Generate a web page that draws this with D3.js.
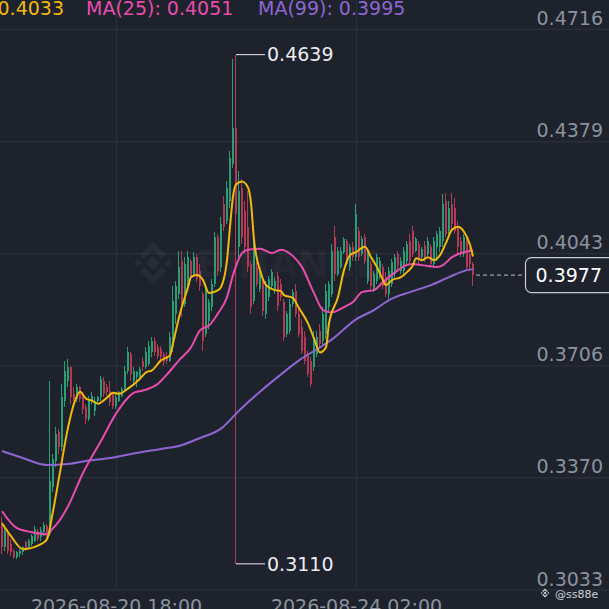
<!DOCTYPE html>
<html>
<head>
<meta charset="utf-8">
<script src="https://cdn.jsdelivr.net/npm/d3@7"></script>
<style>
  html, body { margin: 0; padding: 0; background: #1e222d; overflow: hidden; }
</style>
</head>
<body>
<div id="chart"></div>
<script>
const WIDTH = 609
const HEIGHT = 609
const PLOT_BOTTOM = 589.5
const FONT = '"DejaVu Sans", sans-serif'

const BG = '#1e222d'
const GRID = '#2a2e39'
const AXIS_TEXT = '#8c929c'
const UP = '#2a9d74'
const DOWN = '#b23a52'
const MA_COLORS = ['#f0b90b', '#e84dad', '#8c67cf']

// bougies 1h, premiere bougie a 2026-08-19 04:00 : [open, high, low, close]
const FIRST_CANDLE = new Date(2026, 7, 19, 4, 0)
const CANDLES = [
  [.3236, .3250, .3140, .3160], [.3160, .3225, .3150, .3210], [.3210, .3215, .3140, .3150], [.3170, .3185, .3135, .3145],
  [.3150, .3155, .3125, .3130], [.3130, .3150, .3125, .3145], [.3140, .3155, .3130, .3150], [.3145, .3165, .3138, .3160],
  [.3175, .3180, .3150, .3155], [.3160, .3185, .3155, .3180], [.3170, .3200, .3165, .3195], [.3180, .3225, .3175, .3215],
  [.3210, .3215, .3180, .3185], [.3190, .3220, .3178, .3212], [.3205, .3235, .3195, .3228], [.3225, .3230, .3175, .3190],
  [.3200, .3660, .3195, .3360], [.3340, .3440, .3325, .3425], [.3420, .3520, .3400, .3500], [.3505, .3515, .3440, .3460],
  [.3460, .3650, .3450, .3610], [.3600, .3720, .3580, .3690], [.3660, .3725, .3640, .3700], [.3700, .3705, .3590, .3610],
  [.3620, .3640, .3600, .3605], [.3605, .3650, .3595, .3640], [.3640, .3645, .3595, .3605], [.3610, .3625, .3560, .3575],
  [.3580, .3590, .3530, .3545], [.3545, .3615, .3540, .3600], [.3595, .3625, .3590, .3615], [.3570, .3610, .3555, .3600],
  [.3600, .3615, .3595, .3610], [.3610, .3675, .3600, .3665], [.3660, .3670, .3610, .3620], [.3640, .3650, .3615, .3625],
  [.3630, .3660, .3585, .3595], [.3620, .3625, .3575, .3585], [.3585, .3620, .3575, .3610], [.3600, .3630, .3595, .3625],
  [.3615, .3640, .3610, .3635], [.3630, .3705, .3625, .3690], [.3690, .3760, .3680, .3745], [.3740, .3745, .3660, .3680],
  [.3660, .3700, .3650, .3690], [.3670, .3690, .3640, .3685], [.3670, .3700, .3665, .3695], [.3720, .3730, .3690, .3700],
  [.3700, .3760, .3695, .3745], [.3710, .3780, .3705, .3765], [.3745, .3790, .3730, .3780], [.3780, .3790, .3735, .3745],
  [.3760, .3770, .3725, .3735], [.3755, .3765, .3720, .3730], [.3740, .3745, .3705, .3715], [.3735, .3745, .3710, .3720],
  [.3720, .3805, .3715, .3790], [.3760, .3945, .3745, .3900], [.3860, .3960, .3830, .3945], [.3920, .4050, .3905, .4000],
  [.4020, .4050, .3850, .3890], [.3890, .4030, .3880, .4010], [.3960, .4050, .3930, .4030], [.4020, .4025, .3960, .3975],
  [.3975, .4045, .3970, .4030], [.4030, .4040, .3955, .3965], [.3990, .4010, .3930, .3945], [.3920, .3925, .3750, .3780],
  [.3800, .3945, .3790, .3930], [.3840, .3905, .3815, .3895], [.3880, .3965, .3870, .3950], [.3950, .4105, .3940, .4090],
  [.4090, .4100, .3975, .3990], [.4000, .4150, .3985, .4130], [.4190, .4215, .4110, .4120], [.4140, .4260, .4130, .4240],
  [.4200, .4350, .4180, .4330], [.4310, .4625, .4300, .4420], [.4420, .4639, .3110, .4160], [.4060, .4290, .4030, .4230],
  [.4240, .4265, .4070, .4090], [.4170, .4200, .4040, .4060], [.4120, .4230, .3985, .4000], [.4010, .4020, .3860, .3880],
  [.3900, .4080, .3890, .4060], [.4000, .4020, .3940, .3950], [.3935, .3995, .3925, .3985], [.3960, .3970, .3855, .3870],
  [.3860, .3960, .3845, .3950], [.3910, .3975, .3900, .3965], [.3945, .3995, .3935, .3985], [.3930, .3970, .3920, .3960],
  [.3975, .3985, .3870, .3885], [.3950, .3965, .3900, .3910], [.3895, .3905, .3780, .3790], [.3800, .3870, .3790, .3860],
  [.3810, .3905, .3800, .3890], [.3890, .3935, .3880, .3925], [.3930, .3950, .3850, .3860], [.3860, .3875, .3790, .3800],
  [.3820, .3845, .3740, .3750], [.3790, .3810, .3710, .3720], [.3740, .3750, .3670, .3680], [.3720, .3730, .3640, .3650],
  [.3700, .3810, .3690, .3790], [.3740, .3810, .3730, .3790], [.3810, .3830, .3760, .3770], [.3780, .3880, .3765, .3860],
  [.3800, .3950, .3785, .3930], [.3880, .3960, .3870, .3950], [.3920, .4070, .3910, .4050], [.4090, .4125, .3960, .3980],
  [.3980, .4060, .3975, .4050], [.4000, .4060, .3995, .4050], [.4045, .4090, .4040, .4085], [.4080, .4085, .4005, .4010],
  [.4000, .4070, .3990, .4060], [.4060, .4075, .4020, .4030], [.4030, .4190, .4020, .4160], [.4110, .4120, .4020, .4030],
  [.4040, .4095, .4035, .4085], [.4090, .4100, .4010, .4020], [.3960, .4055, .3950, .4040], [.4010, .4020, .3930, .3945],
  [.3935, .3990, .3925, .3980], [.3960, .4040, .3950, .4030], [.3970, .4030, .3965, .4020], [.4000, .4010, .3935, .3945],
  [.3970, .3985, .3910, .3920], [.3920, .4000, .3905, .3990], [.3950, .4025, .3940, .4015], [.3980, .4040, .3965, .4030],
  [.4040, .4050, .3995, .4005], [.3990, .4030, .3980, .4020], [.3990, .4060, .3980, .4050], [.4020, .4080, .4010, .4070],
  [.4080, .4100, .4010, .4020], [.4110, .4125, .4030, .4040], [.4050, .4090, .4045, .4085], [.4070, .4080, .4010, .4025],
  [.4030, .4060, .4020, .4055], [.4065, .4080, .4015, .4025], [.4040, .4090, .4035, .4080], [.4060, .4070, .4000, .4010],
  [.4010, .4090, .4000, .4080], [.4060, .4110, .4020, .4100], [.4060, .4120, .4045, .4110], [.4080, .4220, .4060, .4190],
  [.4200, .4225, .4090, .4100], [.4110, .4200, .4100, .4180], [.4190, .4225, .4110, .4130], [.4180, .4210, .4100, .4110],
  [.4120, .4140, .4040, .4060], [.4080, .4090, .4030, .4040], [.4040, .4100, .4030, .4090], [.4080, .4090, .3990, .4000],
  [.4040, .4060, .3990, .4010], [.4010, .4015, .3945, .3977]
]

// moyennes mobiles : [indice de bougie, prix]
const MA7 = [
  [0, .3232], [3, .3193], [7, .3154], [13, .3169], [15, .3184], [17, .3268], [19, .3368], [22, .3519],
  [24, .3591], [26, .3627], [28, .3606], [30, .3600], [32, .3591], [35, .3609], [37, .3624], [39, .3621],
  [42, .3636], [46, .3666], [48, .3685], [50, .3691], [53, .3721], [55, .3730], [56, .3736], [57, .3772],
  [59, .3850], [62, .3941], [63, .3971], [65, .3977], [67, .3962], [69, .3923], [72, .3932], [73, .3941],
  [75, .4022], [76, .4122], [77, .4212], [78, .4249], [80, .4258], [82, .4240], [83, .4194], [84, .4083],
  [86, .3992], [88, .3947], [91, .3932], [93, .3929], [94, .3917], [97, .3908], [99, .3878], [102, .3832],
  [104, .3787], [106, .3745], [108, .3760], [109, .3832], [112, .3911], [114, .3992], [116, .4037], [118, .4046],
  [121, .4062], [123, .4031], [125, .4001], [127, .3962], [128, .3947], [130, .3962], [133, .3971], [135, .3986],
  [137, .4007], [138, .4028], [140, .4022], [142, .4031], [144, .4022], [146, .4037], [148, .4074], [150, .4113],
  [152, .4122], [154, .4107], [156, .4068], [157, .4033]
]
const MA25 = [
  [0, .3268], [5, .3217], [10, .3205], [15, .3199], [17, .3217], [19, .3238], [22, .3283], [27, .3383],
  [33, .3479], [38, .3561], [42, .3609], [44, .3624], [48, .3633], [52, .3651], [55, .3679], [59, .3721],
  [63, .3760], [66, .3811], [69, .3826], [72, .3862], [75, .3911], [77, .3977], [80, .4043], [82, .4053],
  [86, .4056], [90, .4043], [93, .4053], [97, .4034], [100, .4001], [104, .3923], [107, .3872], [110, .3865],
  [114, .3881], [117, .3896], [120, .3926], [124, .3932], [127, .3956], [132, .3992], [134, .4004], [137, .4010],
  [140, .4007], [145, .4001], [147, .4007], [150, .4031], [154, .4046], [157, .4051]
]
const MA99 = [
  [0, .3449], [6, .3431], [15, .3407], [22, .3410], [28, .3419], [36, .3428], [43, .3440], [53, .3455],
  [59, .3464], [66, .3488], [73, .3516], [79, .3570], [86, .3627], [93, .3679], [99, .3721], [106, .3760],
  [110, .3784], [118, .3844], [124, .3872], [129, .3902], [136, .3926], [143, .3947], [149, .3971], [155, .3992],
  [157, .3995]
]

const MA_LABELS = ['MA(7)', 'MA(25)', 'MA(99)']
const MA_LAST = [0.4033, 0.4051, 0.3995]
const PRICE_TICKS = [0.4716, 0.4379, 0.4043, 0.3706, 0.3370, 0.3033]
const DATE_TICKS = [new Date(2026, 7, 20, 18, 0), new Date(2026, 7, 24, 2, 0)]

const svg = d3.select('#chart').append('svg')
    .attr('width', WIDTH).attr('height', HEIGHT)
    .style('display', 'block')
    .style('background', BG)
    .attr('font-family', FONT)

// echelles
const yScale = d3.scaleLinear().domain([0.3033, 0.4716]).range([PLOT_BOTTOM, 29])
const xScale = d3.scaleTime().domain(DATE_TICKS).range([116, 356])
const timeOf = i => d3.timeHour.offset(FIRST_CANDLE, i)
const xOf = i => Math.round(xScale(timeOf(i)))

// grille horizontale
svg.append('g')
    .attr('transform', `translate(${WIDTH}, 0)`)
    .call(d3.axisLeft(yScale).tickValues(PRICE_TICKS).tickSize(WIDTH).tickFormat(''))
    .call(g => g.select('.domain').remove())
    .selectAll('line').attr('stroke', GRID).attr('stroke-width', 1.3)

// grille verticale
svg.append('g')
    .attr('transform', `translate(0, ${PLOT_BOTTOM})`)
    .call(d3.axisBottom(xScale).tickValues(DATE_TICKS).tickSize(-PLOT_BOTTOM).tickFormat(''))
    .call(g => g.select('.domain').remove())
    .selectAll('line').attr('stroke', GRID).attr('stroke-width', 1.3)

// filigrane
const mark = svg.append('g').attr('fill', '#ffffff').attr('fill-opacity', 0.045)
const logo = (g, cx, cy, s) => {
  const l = g.append('g').attr('transform', `translate(${cx}, ${cy}) scale(${s})`)
  l.append('path').attr('d', 'M0 -7 L7 0 L0 7 L-7 0 Z')
  l.append('path').attr('d', 'M-15 -4 L-11 0 L-15 4 L-19 0 Z')
  l.append('path').attr('d', 'M15 -4 L19 0 L15 4 L11 0 Z')
  l.append('path').attr('d', 'M-13 -8 L0 -21 L13 -8 L9 -4 L0 -13 L-9 -4 Z')
  l.append('path').attr('d', 'M-13 8 L0 21 L13 8 L9 4 L0 13 L-9 4 Z')
}
logo(mark, 153, 263, 1)
mark.append('text')
    .attr('x', 196).attr('y', 277)
    .attr('font-size', 37).attr('font-weight', 'bold')
    .text('BINANCE')

// bougies
const candles = svg.append('g').attr('shape-rendering', 'crispEdges')
candles.selectAll('rect.wick')
    .data(CANDLES)
    .enter()
    .append('rect')
    .attr('class', 'wick')
    .attr('x', (d, i) => xOf(i) - 1)
    .attr('width', 1)
    .attr('y', d => yScale(d[1]))
    .attr('height', d => Math.max(1, yScale(d[2]) - yScale(d[1])))
    .attr('fill', d => d[3] >= d[0] ? UP : DOWN)
candles.selectAll('rect.body')
    .data(CANDLES)
    .enter()
    .append('rect')
    .attr('class', 'body')
    .attr('x', (d, i) => xOf(i) - 1)
    .attr('width', 2)
    .attr('y', d => yScale(Math.max(d[0], d[3])))
    .attr('height', d => Math.max(1, Math.abs(yScale(d[0]) - yScale(d[3]))))
    .attr('fill', d => d[3] >= d[0] ? UP : DOWN)

// moyennes mobiles
const maLine = d3.line()
    .x(d => xScale(timeOf(d[0])))
    .y(d => yScale(d[1]))
    .curve(d3.curveMonotoneX)
;[MA99, MA25, MA7].forEach((serie, k) => {
  svg.append('path')
      .datum(serie)
      .attr('d', maLine)
      .attr('fill', 'none')
      .attr('stroke', MA_COLORS[2 - k])
      .attr('stroke-width', 2)
      .attr('stroke-linejoin', 'round')
})

// plus haut / plus bas visibles
const hiIdx = d3.maxIndex(CANDLES, d => d[1])
const loIdx = d3.minIndex(CANDLES, d => d[2])
;[[hiIdx, CANDLES[hiIdx][1]], [loIdx, CANDLES[loIdx][2]]].forEach(([i, p]) => {
  const x0 = xOf(i)
  svg.append('line')
      .attr('x1', x0).attr('x2', x0 + 29)
      .attr('y1', yScale(p)).attr('y2', yScale(p))
      .attr('stroke', '#eaecef').attr('stroke-width', 1)
  svg.append('text')
      .attr('x', x0 + 31).attr('y', yScale(p)).attr('dy', '0.36em')
      .attr('font-size', 19).attr('fill', '#eaecef')
      .text(d3.format('.4f')(p))
})

// axe des prix
svg.append('g')
    .attr('transform', `translate(603, 0)`)
    .call(d3.axisLeft(yScale).tickValues(PRICE_TICKS).tickSize(0).tickPadding(0).tickFormat(d3.format('.4f')))
    .call(g => g.select('.domain').remove())
    .call(g => g.selectAll('text')
        .attr('dy', null).attr('y', -4.5)
        .attr('font-family', FONT).attr('font-size', 19).attr('fill', AXIS_TEXT))

// axe du temps
svg.append('g')
    .attr('transform', `translate(0, ${PLOT_BOTTOM})`)
    .call(d3.axisBottom(xScale).tickValues(DATE_TICKS).tickSize(0).tickPadding(10).tickFormat(d3.timeFormat('%Y-%m-%d %H:%M')))
    .call(g => g.select('.domain').remove())
    .call(g => g.selectAll('text')
        .attr('font-family', FONT).attr('font-size', 19).attr('fill', AXIS_TEXT))

// prix courant
const last = CANDLES[CANDLES.length - 1]
const lastY = yScale(last[3])
svg.append('line')
    .attr('x1', xOf(CANDLES.length - 1) + 3).attr('x2', 525)
    .attr('y1', lastY).attr('y2', lastY)
    .attr('stroke', '#9aa0a9').attr('stroke-width', 1.2)
    .attr('stroke-dasharray', '4 3')
svg.append('rect')
    .attr('x', 525.5).attr('y', lastY - 17.5)
    .attr('width', 92).attr('height', 35).attr('rx', 6)
    .attr('fill', BG).attr('stroke', '#c9cdd3').attr('stroke-width', 1.2)
svg.append('text')
    .attr('x', 602).attr('y', lastY).attr('dy', '0.36em')
    .attr('text-anchor', 'end')
    .attr('font-size', 19).attr('fill', '#ffffff')
    .text(d3.format('.4f')(last[3]))

// legende
const legendX = [64, 86, 258]
const legendAnchor = ['end', 'start', 'start']
MA_LABELS.forEach((label, k) => {
  svg.append('text')
      .attr('x', legendX[k]).attr('y', 15)
      .attr('text-anchor', legendAnchor[k])
      .attr('font-size', 19).attr('fill', MA_COLORS[k])
      .text(`${label}: ${d3.format('.4f')(MA_LAST[k])}`)
})

// signature
const sig = svg.append('g').attr('fill', '#d0d4da')
logo(sig, 545, 593, 0.22)
sig.append('text')
    .attr('x', 555).attr('y', 597.5)
    .attr('font-size', 11)
    .text('@ss88e')
</script>
</body>
</html>
